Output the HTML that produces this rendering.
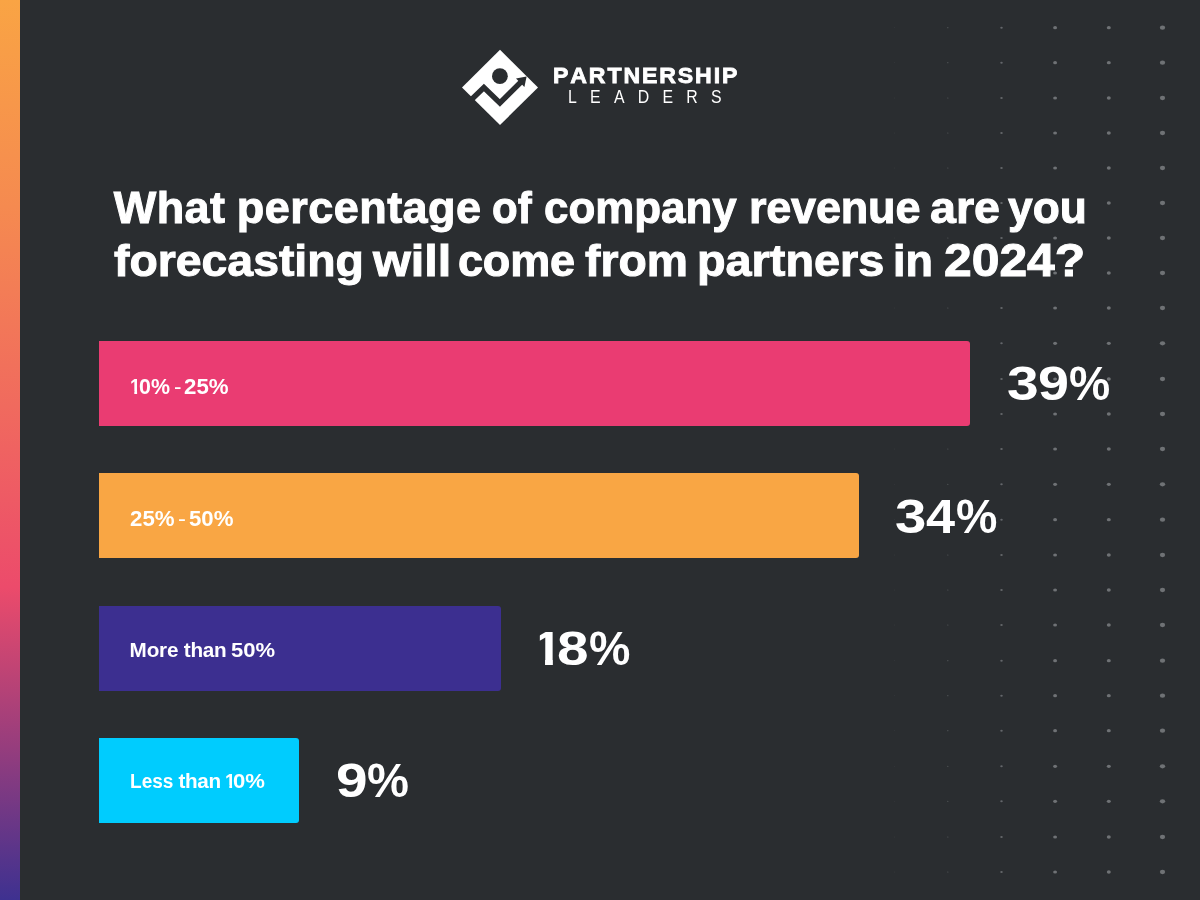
<!DOCTYPE html>
<html lang="en">
<head>
<meta charset="utf-8">
<title>Partnership Leaders – Partner revenue forecast 2024</title>
<style>
  html, body { margin: 0; padding: 0; }
  body {
    width: 1200px; height: 900px; overflow: hidden; position: relative;
    background: #2a2d30;
    font-family: "Liberation Sans", sans-serif;
    color: #ffffff;
  }
  .strip {
    position: absolute; left: 0; top: 0; width: 20px; height: 900px;
    background: linear-gradient(to bottom, #f9a444 0%, #f58a50 23%, #f06a5e 45.2%, #ec4b6b 65.2%, #963d7d 83%, #3e3190 100%);
  }
  .dots { position: absolute; left: 0; top: 0; width: 1200px; height: 900px; }
  .logo { position: absolute; left: 0; top: 0; width: 1200px; height: 150px; }
  .fit { margin: 0; font-weight: 700; font-kerning: none; }
  .fit span { position: absolute; line-height: 60px; white-space: nowrap; transform-origin: 0 0; font-family: "Liberation Sans", sans-serif; }
  .fit span.lt { font-weight: 400; }
  .fit span.b1s { -webkit-text-stroke: 0.8px #fff; }
  .ttl span { -webkit-text-stroke: 1.0px #fff; }
  .bar { position: absolute; left: 99px; height: 85px; border-radius: 0 3px 3px 0; }
  .b1 { top: 341px; width: 871px; background: #ea3c72; }
  .b2 { top: 473px; width: 760px; background: #f9a644; }
  .b3 { top: 606px; width: 402px; background: #3c2f90; }
  .b4 { top: 738px; width: 200px; background: #00ccfe; }
</style>
</head>
<body>
<div class="strip"></div>
<svg class="dots" viewBox="0 0 1200 900"><g fill="#6f7275"><ellipse cx="894.5" cy="27.7" rx="0.45" ry="0.40" fill-opacity="0.3"/><ellipse cx="947.8" cy="27.7" rx="0.70" ry="0.60" fill-opacity="0.55"/><ellipse cx="1001.5" cy="27.7" rx="1.25" ry="1.05" fill-opacity="0.85"/><ellipse cx="1055.1" cy="27.7" rx="1.95" ry="1.60" fill-opacity="1.0"/><ellipse cx="1108.8" cy="27.7" rx="2.00" ry="1.65" fill-opacity="1.0"/><ellipse cx="1162.5" cy="27.7" rx="2.65" ry="2.15" fill-opacity="1.0"/><ellipse cx="894.5" cy="62.7" rx="0.45" ry="0.40" fill-opacity="0.3"/><ellipse cx="947.8" cy="62.7" rx="0.70" ry="0.60" fill-opacity="0.55"/><ellipse cx="1001.5" cy="62.7" rx="1.25" ry="1.05" fill-opacity="0.85"/><ellipse cx="1055.1" cy="62.7" rx="1.95" ry="1.60" fill-opacity="1.0"/><ellipse cx="1108.8" cy="62.7" rx="2.00" ry="1.65" fill-opacity="1.0"/><ellipse cx="1162.5" cy="62.7" rx="2.65" ry="2.15" fill-opacity="1.0"/><ellipse cx="894.5" cy="98" rx="0.45" ry="0.40" fill-opacity="0.3"/><ellipse cx="947.8" cy="98" rx="0.70" ry="0.60" fill-opacity="0.55"/><ellipse cx="1001.5" cy="98" rx="1.25" ry="1.05" fill-opacity="0.85"/><ellipse cx="1055.1" cy="98" rx="1.95" ry="1.60" fill-opacity="1.0"/><ellipse cx="1108.8" cy="98" rx="2.00" ry="1.65" fill-opacity="1.0"/><ellipse cx="1162.5" cy="98" rx="2.65" ry="2.15" fill-opacity="1.0"/><ellipse cx="894.5" cy="133" rx="0.45" ry="0.40" fill-opacity="0.3"/><ellipse cx="947.8" cy="133" rx="0.70" ry="0.60" fill-opacity="0.55"/><ellipse cx="1001.5" cy="133" rx="1.25" ry="1.05" fill-opacity="0.85"/><ellipse cx="1055.1" cy="133" rx="1.95" ry="1.60" fill-opacity="1.0"/><ellipse cx="1108.8" cy="133" rx="2.00" ry="1.65" fill-opacity="1.0"/><ellipse cx="1162.5" cy="133" rx="2.65" ry="2.15" fill-opacity="1.0"/><ellipse cx="894.5" cy="168" rx="0.45" ry="0.40" fill-opacity="0.3"/><ellipse cx="947.8" cy="168" rx="0.70" ry="0.60" fill-opacity="0.55"/><ellipse cx="1001.5" cy="168" rx="1.25" ry="1.05" fill-opacity="0.85"/><ellipse cx="1055.1" cy="168" rx="1.95" ry="1.60" fill-opacity="1.0"/><ellipse cx="1108.8" cy="168" rx="2.00" ry="1.65" fill-opacity="1.0"/><ellipse cx="1162.5" cy="168" rx="2.65" ry="2.15" fill-opacity="1.0"/><ellipse cx="894.5" cy="203" rx="0.45" ry="0.40" fill-opacity="0.3"/><ellipse cx="947.8" cy="203" rx="0.70" ry="0.60" fill-opacity="0.55"/><ellipse cx="1001.5" cy="203" rx="1.25" ry="1.05" fill-opacity="0.85"/><ellipse cx="1055.1" cy="203" rx="1.95" ry="1.60" fill-opacity="1.0"/><ellipse cx="1108.8" cy="203" rx="2.00" ry="1.65" fill-opacity="1.0"/><ellipse cx="1162.5" cy="203" rx="2.65" ry="2.15" fill-opacity="1.0"/><ellipse cx="894.5" cy="238" rx="0.45" ry="0.40" fill-opacity="0.3"/><ellipse cx="947.8" cy="238" rx="0.70" ry="0.60" fill-opacity="0.55"/><ellipse cx="1001.5" cy="238" rx="1.25" ry="1.05" fill-opacity="0.85"/><ellipse cx="1055.1" cy="238" rx="1.95" ry="1.60" fill-opacity="1.0"/><ellipse cx="1108.8" cy="238" rx="2.00" ry="1.65" fill-opacity="1.0"/><ellipse cx="1162.5" cy="238" rx="2.65" ry="2.15" fill-opacity="1.0"/><ellipse cx="894.5" cy="273" rx="0.45" ry="0.40" fill-opacity="0.3"/><ellipse cx="947.8" cy="273" rx="0.70" ry="0.60" fill-opacity="0.55"/><ellipse cx="1001.5" cy="273" rx="1.25" ry="1.05" fill-opacity="0.85"/><ellipse cx="1055.1" cy="273" rx="1.95" ry="1.60" fill-opacity="1.0"/><ellipse cx="1108.8" cy="273" rx="2.00" ry="1.65" fill-opacity="1.0"/><ellipse cx="1162.5" cy="273" rx="2.65" ry="2.15" fill-opacity="1.0"/><ellipse cx="894.5" cy="308" rx="0.45" ry="0.40" fill-opacity="0.3"/><ellipse cx="947.8" cy="308" rx="0.70" ry="0.60" fill-opacity="0.55"/><ellipse cx="1001.5" cy="308" rx="1.25" ry="1.05" fill-opacity="0.85"/><ellipse cx="1055.1" cy="308" rx="1.95" ry="1.60" fill-opacity="1.0"/><ellipse cx="1108.8" cy="308" rx="2.00" ry="1.65" fill-opacity="1.0"/><ellipse cx="1162.5" cy="308" rx="2.65" ry="2.15" fill-opacity="1.0"/><ellipse cx="894.5" cy="343.3" rx="0.45" ry="0.40" fill-opacity="0.3"/><ellipse cx="947.8" cy="343.3" rx="0.70" ry="0.60" fill-opacity="0.55"/><ellipse cx="1001.5" cy="343.3" rx="1.25" ry="1.05" fill-opacity="0.85"/><ellipse cx="1055.1" cy="343.3" rx="1.95" ry="1.60" fill-opacity="1.0"/><ellipse cx="1108.8" cy="343.3" rx="2.00" ry="1.65" fill-opacity="1.0"/><ellipse cx="1162.5" cy="343.3" rx="2.65" ry="2.15" fill-opacity="1.0"/><ellipse cx="894.5" cy="379" rx="0.45" ry="0.40" fill-opacity="0.3"/><ellipse cx="947.8" cy="379" rx="0.70" ry="0.60" fill-opacity="0.55"/><ellipse cx="1001.5" cy="379" rx="1.25" ry="1.05" fill-opacity="0.85"/><ellipse cx="1055.1" cy="379" rx="1.95" ry="1.60" fill-opacity="1.0"/><ellipse cx="1108.8" cy="379" rx="2.00" ry="1.65" fill-opacity="1.0"/><ellipse cx="1162.5" cy="379" rx="2.65" ry="2.15" fill-opacity="1.0"/><ellipse cx="894.5" cy="414" rx="0.45" ry="0.40" fill-opacity="0.3"/><ellipse cx="947.8" cy="414" rx="0.70" ry="0.60" fill-opacity="0.55"/><ellipse cx="1001.5" cy="414" rx="1.25" ry="1.05" fill-opacity="0.85"/><ellipse cx="1055.1" cy="414" rx="1.95" ry="1.60" fill-opacity="1.0"/><ellipse cx="1108.8" cy="414" rx="2.00" ry="1.65" fill-opacity="1.0"/><ellipse cx="1162.5" cy="414" rx="2.65" ry="2.15" fill-opacity="1.0"/><ellipse cx="894.5" cy="449" rx="0.45" ry="0.40" fill-opacity="0.3"/><ellipse cx="947.8" cy="449" rx="0.70" ry="0.60" fill-opacity="0.55"/><ellipse cx="1001.5" cy="449" rx="1.25" ry="1.05" fill-opacity="0.85"/><ellipse cx="1055.1" cy="449" rx="1.95" ry="1.60" fill-opacity="1.0"/><ellipse cx="1108.8" cy="449" rx="2.00" ry="1.65" fill-opacity="1.0"/><ellipse cx="1162.5" cy="449" rx="2.65" ry="2.15" fill-opacity="1.0"/><ellipse cx="894.5" cy="484.3" rx="0.45" ry="0.40" fill-opacity="0.3"/><ellipse cx="947.8" cy="484.3" rx="0.70" ry="0.60" fill-opacity="0.55"/><ellipse cx="1001.5" cy="484.3" rx="1.25" ry="1.05" fill-opacity="0.85"/><ellipse cx="1055.1" cy="484.3" rx="1.95" ry="1.60" fill-opacity="1.0"/><ellipse cx="1108.8" cy="484.3" rx="2.00" ry="1.65" fill-opacity="1.0"/><ellipse cx="1162.5" cy="484.3" rx="2.65" ry="2.15" fill-opacity="1.0"/><ellipse cx="894.5" cy="519.7" rx="0.45" ry="0.40" fill-opacity="0.3"/><ellipse cx="947.8" cy="519.7" rx="0.70" ry="0.60" fill-opacity="0.55"/><ellipse cx="1001.5" cy="519.7" rx="1.25" ry="1.05" fill-opacity="0.85"/><ellipse cx="1055.1" cy="519.7" rx="1.95" ry="1.60" fill-opacity="1.0"/><ellipse cx="1108.8" cy="519.7" rx="2.00" ry="1.65" fill-opacity="1.0"/><ellipse cx="1162.5" cy="519.7" rx="2.65" ry="2.15" fill-opacity="1.0"/><ellipse cx="894.5" cy="555" rx="0.45" ry="0.40" fill-opacity="0.3"/><ellipse cx="947.8" cy="555" rx="0.70" ry="0.60" fill-opacity="0.55"/><ellipse cx="1001.5" cy="555" rx="1.25" ry="1.05" fill-opacity="0.85"/><ellipse cx="1055.1" cy="555" rx="1.95" ry="1.60" fill-opacity="1.0"/><ellipse cx="1108.8" cy="555" rx="2.00" ry="1.65" fill-opacity="1.0"/><ellipse cx="1162.5" cy="555" rx="2.65" ry="2.15" fill-opacity="1.0"/><ellipse cx="894.5" cy="590" rx="0.45" ry="0.40" fill-opacity="0.3"/><ellipse cx="947.8" cy="590" rx="0.70" ry="0.60" fill-opacity="0.55"/><ellipse cx="1001.5" cy="590" rx="1.25" ry="1.05" fill-opacity="0.85"/><ellipse cx="1055.1" cy="590" rx="1.95" ry="1.60" fill-opacity="1.0"/><ellipse cx="1108.8" cy="590" rx="2.00" ry="1.65" fill-opacity="1.0"/><ellipse cx="1162.5" cy="590" rx="2.65" ry="2.15" fill-opacity="1.0"/><ellipse cx="894.5" cy="625" rx="0.45" ry="0.40" fill-opacity="0.3"/><ellipse cx="947.8" cy="625" rx="0.70" ry="0.60" fill-opacity="0.55"/><ellipse cx="1001.5" cy="625" rx="1.25" ry="1.05" fill-opacity="0.85"/><ellipse cx="1055.1" cy="625" rx="1.95" ry="1.60" fill-opacity="1.0"/><ellipse cx="1108.8" cy="625" rx="2.00" ry="1.65" fill-opacity="1.0"/><ellipse cx="1162.5" cy="625" rx="2.65" ry="2.15" fill-opacity="1.0"/><ellipse cx="894.5" cy="660.7" rx="0.45" ry="0.40" fill-opacity="0.3"/><ellipse cx="947.8" cy="660.7" rx="0.70" ry="0.60" fill-opacity="0.55"/><ellipse cx="1001.5" cy="660.7" rx="1.25" ry="1.05" fill-opacity="0.85"/><ellipse cx="1055.1" cy="660.7" rx="1.95" ry="1.60" fill-opacity="1.0"/><ellipse cx="1108.8" cy="660.7" rx="2.00" ry="1.65" fill-opacity="1.0"/><ellipse cx="1162.5" cy="660.7" rx="2.65" ry="2.15" fill-opacity="1.0"/><ellipse cx="894.5" cy="695.7" rx="0.45" ry="0.40" fill-opacity="0.3"/><ellipse cx="947.8" cy="695.7" rx="0.70" ry="0.60" fill-opacity="0.55"/><ellipse cx="1001.5" cy="695.7" rx="1.25" ry="1.05" fill-opacity="0.85"/><ellipse cx="1055.1" cy="695.7" rx="1.95" ry="1.60" fill-opacity="1.0"/><ellipse cx="1108.8" cy="695.7" rx="2.00" ry="1.65" fill-opacity="1.0"/><ellipse cx="1162.5" cy="695.7" rx="2.65" ry="2.15" fill-opacity="1.0"/><ellipse cx="894.5" cy="730.7" rx="0.45" ry="0.40" fill-opacity="0.3"/><ellipse cx="947.8" cy="730.7" rx="0.70" ry="0.60" fill-opacity="0.55"/><ellipse cx="1001.5" cy="730.7" rx="1.25" ry="1.05" fill-opacity="0.85"/><ellipse cx="1055.1" cy="730.7" rx="1.95" ry="1.60" fill-opacity="1.0"/><ellipse cx="1108.8" cy="730.7" rx="2.00" ry="1.65" fill-opacity="1.0"/><ellipse cx="1162.5" cy="730.7" rx="2.65" ry="2.15" fill-opacity="1.0"/><ellipse cx="894.5" cy="766.3" rx="0.45" ry="0.40" fill-opacity="0.3"/><ellipse cx="947.8" cy="766.3" rx="0.70" ry="0.60" fill-opacity="0.55"/><ellipse cx="1001.5" cy="766.3" rx="1.25" ry="1.05" fill-opacity="0.85"/><ellipse cx="1055.1" cy="766.3" rx="1.95" ry="1.60" fill-opacity="1.0"/><ellipse cx="1108.8" cy="766.3" rx="2.00" ry="1.65" fill-opacity="1.0"/><ellipse cx="1162.5" cy="766.3" rx="2.65" ry="2.15" fill-opacity="1.0"/><ellipse cx="894.5" cy="801.3" rx="0.45" ry="0.40" fill-opacity="0.3"/><ellipse cx="947.8" cy="801.3" rx="0.70" ry="0.60" fill-opacity="0.55"/><ellipse cx="1001.5" cy="801.3" rx="1.25" ry="1.05" fill-opacity="0.85"/><ellipse cx="1055.1" cy="801.3" rx="1.95" ry="1.60" fill-opacity="1.0"/><ellipse cx="1108.8" cy="801.3" rx="2.00" ry="1.65" fill-opacity="1.0"/><ellipse cx="1162.5" cy="801.3" rx="2.65" ry="2.15" fill-opacity="1.0"/><ellipse cx="894.5" cy="837" rx="0.45" ry="0.40" fill-opacity="0.3"/><ellipse cx="947.8" cy="837" rx="0.70" ry="0.60" fill-opacity="0.55"/><ellipse cx="1001.5" cy="837" rx="1.25" ry="1.05" fill-opacity="0.85"/><ellipse cx="1055.1" cy="837" rx="1.95" ry="1.60" fill-opacity="1.0"/><ellipse cx="1108.8" cy="837" rx="2.00" ry="1.65" fill-opacity="1.0"/><ellipse cx="1162.5" cy="837" rx="2.65" ry="2.15" fill-opacity="1.0"/><ellipse cx="894.5" cy="872" rx="0.45" ry="0.40" fill-opacity="0.3"/><ellipse cx="947.8" cy="872" rx="0.70" ry="0.60" fill-opacity="0.55"/><ellipse cx="1001.5" cy="872" rx="1.25" ry="1.05" fill-opacity="0.85"/><ellipse cx="1055.1" cy="872" rx="1.95" ry="1.60" fill-opacity="1.0"/><ellipse cx="1108.8" cy="872" rx="2.00" ry="1.65" fill-opacity="1.0"/><ellipse cx="1162.5" cy="872" rx="2.65" ry="2.15" fill-opacity="1.0"/></g></svg>

<svg class="logo" viewBox="0 0 1200 150">
  <polygon points="500,49.8 538,87.5 500,125 462,87.5" fill="#ffffff"/>
  <circle cx="499.9" cy="76.2" r="7.9" fill="#2a2d30"/>
  <polyline points="471,100 483.9,87.6 499.9,102.9 522,81" fill="none" stroke="#2a2d30" stroke-width="5.4"/>
  <polygon points="526.6,76.4 516,78.5 524.4,87" fill="#2a2d30"/>
</svg>
<div class="fit brand"><span class="b1s" style="top:46px;font-size:22px;left:553.07px;letter-spacing:1.793px;transform:scaleX(1.0500);">PARTNERSHIP</span></div>
<div class="fit brand"><span class="lt" style="top:67px;font-size:18.0px;left:568.00px;letter-spacing:15.072px;transform:scaleX(0.8800);">LEADERS</span></div>

<h1 class="fit ttl"><span style="top:178px;font-size:45px;left:113.76px;letter-spacing:0.440px;">What</span> <span style="top:178px;font-size:45px;left:236.83px;letter-spacing:0.457px;">percentage</span> <span style="top:178px;font-size:45px;left:491.53px;transform:scaleX(0.9329);">of</span> <span style="top:178px;font-size:45px;left:543.77px;transform:scaleX(0.9753);">company</span> <span style="top:178px;font-size:45px;left:748.93px;letter-spacing:-0.182px;">revenue</span> <span style="top:178px;font-size:45px;left:929.65px;transform:scaleX(1.0364);">are</span> <span style="top:178px;font-size:45px;left:1008.05px;transform:scaleX(0.9848);">you</span> <br> <span style="top:231px;font-size:45px;left:113.72px;transform:scaleX(1.0301);">forecasting</span> <span style="top:231px;font-size:45px;left:372.98px;transform:scaleX(1.0787);">will</span> <span style="top:231px;font-size:45px;left:458.04px;letter-spacing:-0.186px;">come</span> <span style="top:231px;font-size:45px;left:585.42px;transform:scaleX(1.0294);">from</span> <span style="top:231px;font-size:45px;left:697.44px;transform:scaleX(1.0400);">partners</span> <span style="top:231px;font-size:45px;left:893.06px;transform:scaleX(0.9984);">in</span> <span style="top:230px;font-size:46px;left:943.81px;transform:scaleX(1.0827);">2024?</span></h1>

<div class="bar b1"></div>
<div class="fit lab"><span style="top:357px;font-size:21.3px;left:129.51px;transform:scaleX(0.8854);clip-path:polygon(0 0,100% 0,100% 34.0px,.376em 34.0px,.376em 60px,.228em 60px,.228em 34.0px,0 34.0px);">1</span><span style="top:357px;font-size:21.3px;left:138.65px;transform:scaleX(1.0040);">0%</span> <span class="lt" style="top:357px;font-size:21.3px;left:173.50px;transform:scaleX(1.0577);">-</span> <span style="top:357px;font-size:21.3px;left:184.03px;transform:scaleX(1.0452);">25%</span></div>
<div class="fit pct"><span style="top:354px;font-size:48px;left:1007.19px;transform:scaleX(1.1861);">3</span><span style="top:354px;font-size:48px;left:1037.57px;transform:scaleX(1.1613);">9</span><span style="top:354px;font-size:48px;left:1068.85px;transform:scaleX(0.9647);">%</span></div>
<div class="bar b2"></div>
<div class="fit lab"><span style="top:489px;font-size:21.3px;left:130.03px;transform:scaleX(1.0452);">25%</span> <span class="lt" style="top:489px;font-size:21.3px;left:178.14px;transform:scaleX(1.1153);">-</span> <span style="top:489px;font-size:21.3px;left:189.12px;transform:scaleX(1.0431);">50%</span></div>
<div class="fit pct"><span style="top:487px;font-size:48px;left:895.21px;transform:scaleX(1.1735);">3</span><span style="top:487px;font-size:48px;left:925.71px;transform:scaleX(1.0890);">4</span><span style="top:487px;font-size:48px;left:956.34px;transform:scaleX(0.9697);">%</span></div>
<div class="bar b3"></div>
<div class="fit lab"><span style="top:620px;font-size:20.7px;left:129.62px;letter-spacing:-0.188px;">More</span> <span style="top:620px;font-size:20.7px;left:183.75px;letter-spacing:-0.219px;">than</span> <span style="top:620px;font-size:20.7px;left:231.22px;transform:scaleX(1.0659);">50%</span></div>
<div class="fit pct"><span style="top:619px;font-size:48px;left:533.43px;transform:scaleX(1.1000);clip-path:polygon(6px 0,100% 0,100% 41.0px,.376em 41.0px,.376em 60px,.228em 60px,.228em 41.0px,6px 41.0px);">1</span><span style="top:619px;font-size:48px;left:557.20px;transform:scaleX(1.1817);">8</span><span style="top:619px;font-size:48px;left:588.84px;transform:scaleX(0.9697);">%</span></div>
<div class="bar b4"></div>
<div class="fit lab"><span style="top:751px;font-size:20.7px;left:129.72px;transform:scaleX(0.9211);">Less</span> <span style="top:751px;font-size:20.7px;left:178.55px;letter-spacing:-0.353px;">than</span> <span style="top:751px;font-size:20.7px;left:224.91px;transform:scaleX(0.9111);clip-path:polygon(0 0,100% 0,100% 34.0px,.376em 34.0px,.376em 60px,.228em 60px,.228em 34.0px,0 34.0px);">1</span><span style="top:751px;font-size:20.7px;left:233.13px;transform:scaleX(1.0682);">0%</span></div>
<div class="fit pct"><span style="top:751px;font-size:48px;left:335.53px;transform:scaleX(1.1828);">9</span><span style="top:751px;font-size:48px;left:366.83px;transform:scaleX(0.9821);">%</span></div>
</body>
</html>
